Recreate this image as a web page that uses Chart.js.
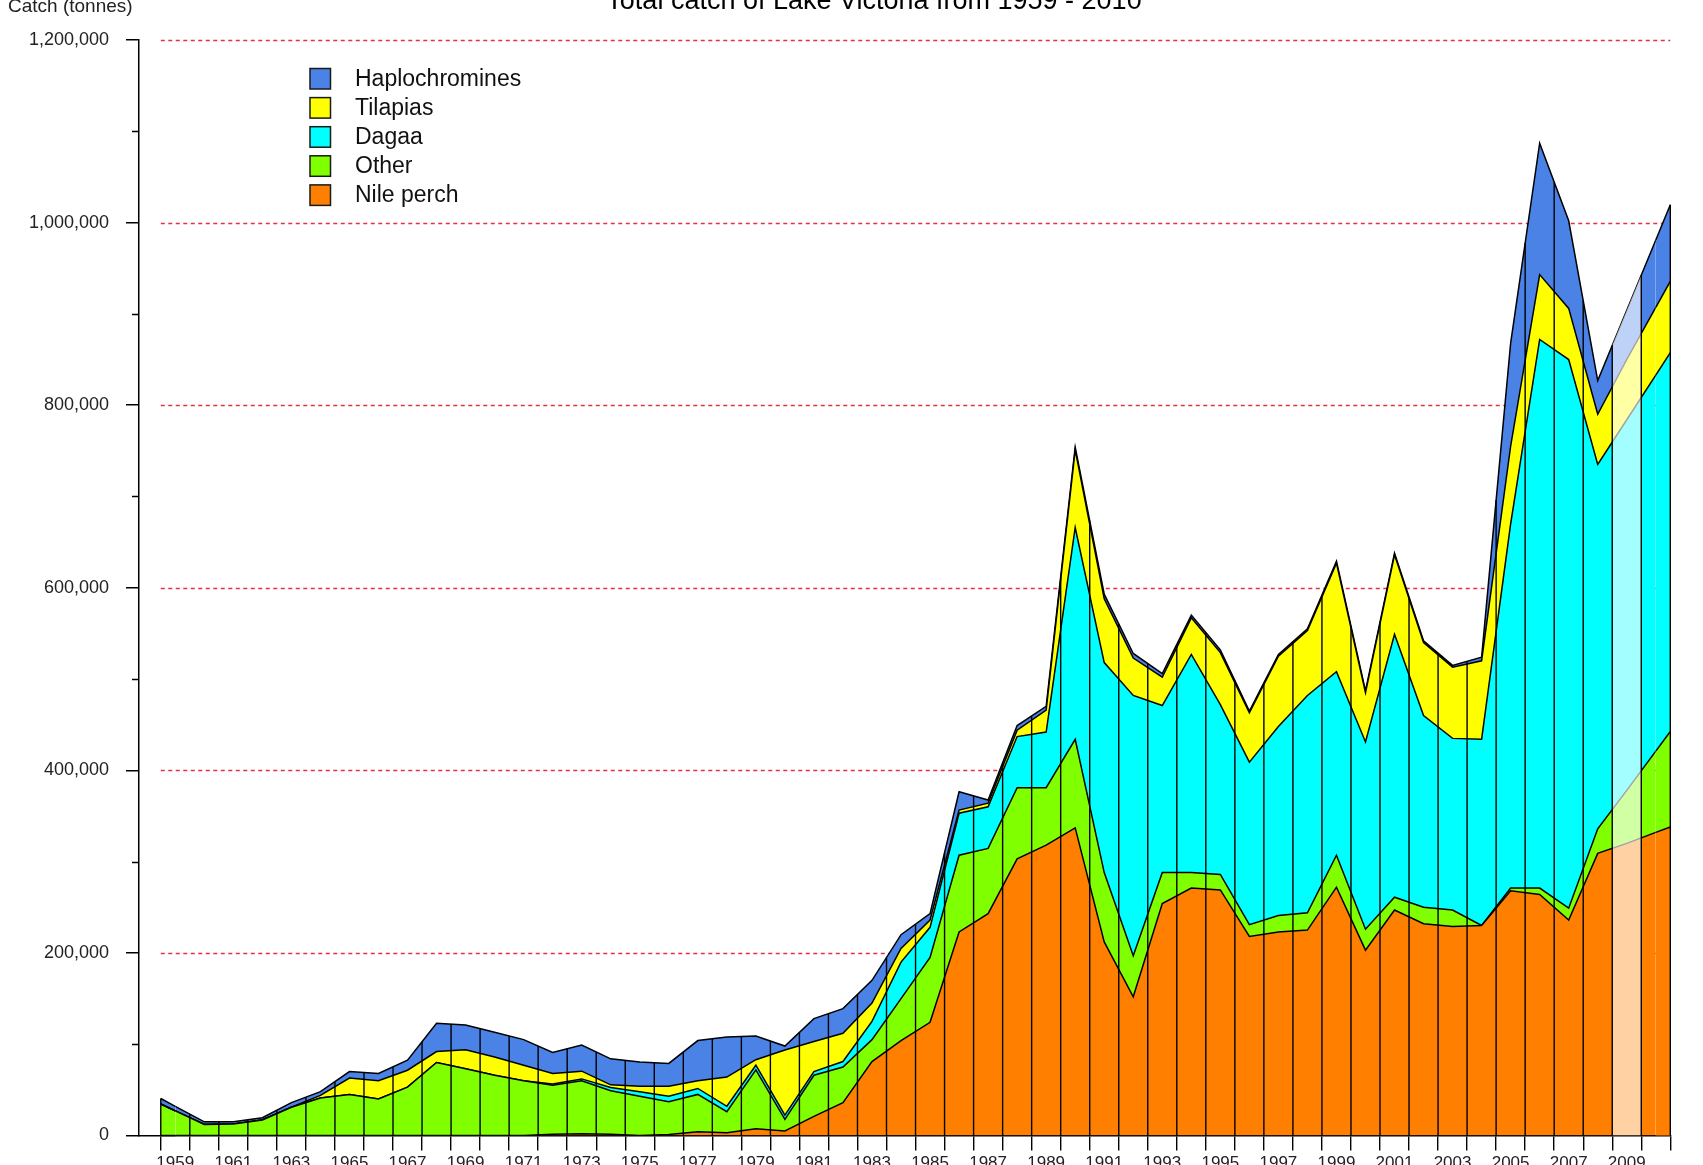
<!DOCTYPE html>
<html>
<head>
<meta charset="utf-8">
<title>Total catch of Lake Victoria from 1959 - 2010</title>
<script src="https://cdn.jsdelivr.net/npm/chart.js@4/dist/chart.umd.min.js"></script>
<style>
  html, body { margin: 0; padding: 0; background: #ffffff; overflow: hidden; }
  #wrap { position: relative; width: 1703px; height: 1165px; }
  canvas { display: block; }
</style>
</head>
<body>
<div id="wrap"><canvas id="chart" width="1703" height="1165"></canvas></div>
<script>
// ---------------- DATA ----------------
const chartTitle = 'Total catch of Lake Victoria from 1959 - 2010';
const yAxisTitle = 'Catch (tonnes)';

const years = [1959,1960,1961,1962,1963,1964,1965,1966,1967,1968,1969,1970,1971,1972,1973,1974,1975,1976,1977,1978,1979,1980,1981,1982,1983,1984,1985,1986,1987,1988,1989,1990,1991,1992,1993,1994,1995,1996,1997,1998,1999,2000,2001,2002,2003,2004,2005,2006,2007,2008,2009,2010];

const xTickLabels = [1959,1961,1963,1965,1967,1969,1971,1973,1975,1977,1979,1981,1983,1985,1987,1989,1991,1993,1995,1997,1999,2001,2003,2005,2007,2009];

const estimatedYears = [2009];

const nilePerch = [0,0,0,0,0,0,0,0,0,0,0,0,0,1500,2000,1500,0,1000,4000,3000,7500,5000,21000,36000,81000,104000,124000,223000,243000,303000,318000,337000,212000,152000,254000,271000,269000,218000,223000,225000,272000,203000,247000,232000,229000,230000,268000,264000,236000,309000,320000,332000];

const other = [27000,12000,12500,17000,31000,41000,45000,40000,53000,80000,73000,66000,60000,53500,58000,47500,43000,36000,41000,23000,64500,12700,45000,39000,24000,46000,71000,84000,71500,78000,63000,97000,76000,45000,34000,17000,17000,13000,18000,19000,35000,23000,14000,18000,18000,0,3000,7000,13000,27000,58000,89000];

const dagaa = [0,0,0,0,0,0,0,0,0,0,0,0,0,1500,2000,3500,5000,6000,6500,6000,5000,4700,4000,6000,20000,40000,33000,46000,45500,56000,61000,232000,230000,285000,183000,239000,186000,178000,207000,238000,201000,205000,288000,210000,188000,204000,399000,601000,601000,399000,406000,412000];

const tilapias = [0,0,0,0,0,3000,18000,20000,18500,12000,21000,20000,17000,11500,8500,3000,6000,11000,8500,32000,6000,71200,33000,31000,20000,15000,8000,3500,4000,7000,24000,85000,70000,41000,31000,40000,57000,54000,77000,71000,119000,54000,87000,80000,78000,86000,85000,71000,56000,55000,66000,74000];

const haplochromines = [5000,3000,2500,2500,5000,4000,7000,8000,11000,31000,27000,27000,28000,23000,28500,28500,26500,25000,44000,44000,26000,4400,25000,27000,25000,15000,7000,20000,3500,5000,4000,3000,5000,5000,4000,3000,3000,2000,2000,2000,2000,2000,2000,2000,2000,4000,113000,144000,96000,37000,54000,74000];

const seriesNames = ['Nile perch', 'Other', 'Dagaa', 'Tilapias', 'Haplochromines'];
const seriesData = [nilePerch, other, dagaa, tilapias, haplochromines];
const seriesColors = ['#FF8000', '#80FF00', '#00FFFF', '#FFFF00', '#4A82E6'];

// year boundaries (tick marks sit between years)
const boundaries = years.map(y => y - 0.5).concat([years[years.length - 1] + 0.5]);

// ---------------- STYLE ----------------
const FONT = "'Liberation Sans', Arial, Helvetica, sans-serif";

function fmt(v) { return String(v).replace(/\B(?=(\d{3})+(?!\d))/g, ','); }

function lineYAt(meta, x) {
  const pts = meta.data;
  const n = pts.length;
  let i = 0;
  if (x <= pts[0].x) i = 0;
  else if (x >= pts[n - 1].x) i = n - 2;
  else { while (i < n - 2 && pts[i + 1].x < x) i++; }
  const a = pts[i], b = pts[i + 1];
  const t = (x - a.x) / (b.x - a.x);
  return a.y + (b.y - a.y) * t;
}

const decorPlugin = {
  id: 'decor',
  beforeDatasetsDraw(chart) {
    const ctx = chart.ctx;
    const xs = chart.scales.x, ys = chart.scales.y;
    const x0 = xs.getPixelForValue(boundaries[0]);
    const x1 = xs.getPixelForValue(boundaries[boundaries.length - 1]);
    ctx.save();
    ctx.strokeStyle = 'rgb(228,48,66)';
    ctx.lineWidth = 1.6;
    ctx.setLineDash([4, 3.5]);
    ys.ticks.forEach(t => {
      if (t.value <= ys.min) return;
      const y = Math.round(ys.getPixelForValue(t.value)) + 0.5;
      ctx.beginPath(); ctx.moveTo(x0, y); ctx.lineTo(x1, y); ctx.stroke();
    });
    ctx.restore();
  },
  afterDatasetsDraw(chart) {
    const ctx = chart.ctx;
    const xs = chart.scales.x, ys = chart.scales.y;
    const base = ys.getPixelForValue(0);
    const n = seriesData.length;
    const metas = seriesData.map((_, k) => chart.getDatasetMeta(k));
    const xL = xs.getPixelForValue(boundaries[0]);
    const xR = xs.getPixelForValue(boundaries[boundaries.length - 1]);

    // half-year edges of the area on both sides
    ctx.save();
    [xL, xR].forEach(xe => {
      const first = xe === xL;
      for (let k = 0; k < n; k++) {
        const m = metas[k];
        const p = first ? m.data[0] : m.data[m.data.length - 1];
        const yTop = lineYAt(m, xe);
        const yLowE = k === 0 ? base : lineYAt(metas[k - 1], xe);
        const yLowP = k === 0 ? base : (first ? metas[k - 1].data[0].y : metas[k - 1].data[metas[k - 1].data.length - 1].y);
        ctx.beginPath();
        ctx.moveTo(xe, yTop); ctx.lineTo(p.x, p.y); ctx.lineTo(p.x, yLowP); ctx.lineTo(xe, yLowE); ctx.closePath();
        ctx.fillStyle = seriesColors[k];
        ctx.fill();
      }
      ctx.strokeStyle = '#000';
      ctx.lineWidth = 1.5;
      for (let k = 0; k < n; k++) {
        const m = metas[k];
        const p = first ? m.data[0] : m.data[m.data.length - 1];
        ctx.beginPath(); ctx.moveTo(xe, lineYAt(m, xe)); ctx.lineTo(p.x, p.y); ctx.stroke();
      }
    });
    ctx.restore();

    // pale (estimated) year columns
    const topMeta = metas[n - 1];
    estimatedYears.forEach(yr => {
      const a = xs.getPixelForValue(yr - 0.5), b = xs.getPixelForValue(yr + 0.5);
      ctx.save();
      ctx.beginPath();
      ctx.moveTo(a, base);
      ctx.lineTo(a, lineYAt(topMeta, a));
      topMeta.data.forEach(p => { if (p.x > a && p.x < b) ctx.lineTo(p.x, p.y); });
      ctx.lineTo(b, lineYAt(topMeta, b));
      ctx.lineTo(b, base);
      ctx.closePath();
      ctx.clip();
      ctx.fillStyle = 'rgba(255,255,255,0.64)';
      ctx.fillRect(a, chart.chartArea.top, b - a, base - chart.chartArea.top);
      ctx.restore();
    });

    // vertical year-boundary lines up to the total
    ctx.save();
    ctx.strokeStyle = '#000';
    ctx.lineWidth = 1.4;
    boundaries.forEach(v => {
      const x = xs.getPixelForValue(v);
      const yt = lineYAt(topMeta, x);
      ctx.beginPath(); ctx.moveTo(x, base); ctx.lineTo(x, yt); ctx.stroke();
    });
    ctx.restore();
  },
  afterDraw(chart) {
    const ctx = chart.ctx;
    const ys = chart.scales.y;
    const axisX = chart.chartArea.left;
    // minor y ticks
    ctx.save();
    ctx.strokeStyle = '#000';
    ctx.lineWidth = 1.5;
    const tk = ys.ticks.map(t => t.value);
    for (let i = 0; i < tk.length - 1; i++) {
      const y = Math.round(ys.getPixelForValue((tk[i] + tk[i + 1]) / 2)) + 0.5;
      ctx.beginPath(); ctx.moveTo(axisX - 7, y); ctx.lineTo(axisX, y); ctx.stroke();
    }
    ctx.restore();

    // titles
    ctx.save();
    ctx.fillStyle = '#000';
    ctx.textBaseline = 'alphabetic';
    ctx.font = '27px ' + FONT;
    ctx.textAlign = 'center';
    ctx.fillText(chartTitle, 874, 9);
    ctx.font = '19px ' + FONT;
    ctx.textAlign = 'left';
    ctx.fillStyle = '#222';
    ctx.fillText(yAxisTitle, 8, 12);
    ctx.restore();

    // legend (top of stack first)
    ctx.save();
    const lx = 310, ly = 68.5, step = 29.1, box = 20.5;
    for (let i = 0; i < seriesNames.length; i++) {
      const k = seriesNames.length - 1 - i;
      const y = ly + i * step;
      ctx.fillStyle = seriesColors[k];
      ctx.fillRect(lx, y, box, box);
      ctx.strokeStyle = '#1a1a1a';
      ctx.lineWidth = 1.5;
      ctx.strokeRect(lx, y, box, box);
      ctx.fillStyle = '#111';
      ctx.font = '23px ' + FONT;
      ctx.textAlign = 'left';
      ctx.textBaseline = 'middle';
      ctx.fillText(seriesNames[k], 355, y + box / 2 + 1);
    }
    ctx.restore();
  }
};

const datasets = seriesData.map((d, k) => ({
  label: seriesNames[k],
  data: years.map((yr, i) => ({ x: yr, y: d[i] })),
  backgroundColor: seriesColors[k],
  borderColor: '#000',
  borderWidth: 1.5,
  pointRadius: 0,
  pointHoverRadius: 0,
  tension: 0,
  fill: k === 0 ? 'origin' : '-1',
  stack: 'catch'
}));

new Chart(document.getElementById('chart'), {
  type: 'line',
  data: { datasets },
  plugins: [decorPlugin],
  options: {
    responsive: false,
    animation: false,
    devicePixelRatio: 1,
    layout: { padding: { left: 0, top: 40, right: 32.7, bottom: 0 } },
    plugins: {
      legend: { display: false },
      title: { display: false },
      tooltip: { enabled: false }
    },
    elements: { line: { borderJoinStyle: 'miter' } },
    scales: {
      x: {
        type: 'linear',
        min: 1957.75,
        max: boundaries[boundaries.length - 1],
        afterBuildTicks: s => { s.ticks = boundaries.map(v => ({ value: v })); },
        afterFit: s => { s.height = 29.5; },
        ticks: {
          autoSkip: false,
          maxRotation: 0,
          minRotation: 0,
          labelOffset: 14.5,
          padding: 3,
          color: '#222',
          font: { family: FONT, size: 17 },
          callback: v => { const yr = Math.round(v + 0.5); return xTickLabels.includes(yr) ? String(yr) : ''; }
        },
        grid: { display: true, drawOnChartArea: false, drawTicks: true, tickLength: 15, color: '#000', lineWidth: 1.4 },
        border: { display: true, color: '#000', width: 1.5 }
      },
      y: {
        type: 'linear',
        stacked: true,
        min: 0,
        max: 1200000,
        afterFit: s => { s.width = 139; },
        ticks: {
          stepSize: 200000,
          padding: 17,
          color: '#222',
          font: { family: FONT, size: 18 },
          callback: v => fmt(v)
        },
        grid: { display: true, drawOnChartArea: false, drawTicks: true, tickLength: 13, color: '#000', lineWidth: 1.5 },
        border: { display: true, color: '#000', width: 1.5 }
      }
    }
  }
});
</script>
</body>
</html>
